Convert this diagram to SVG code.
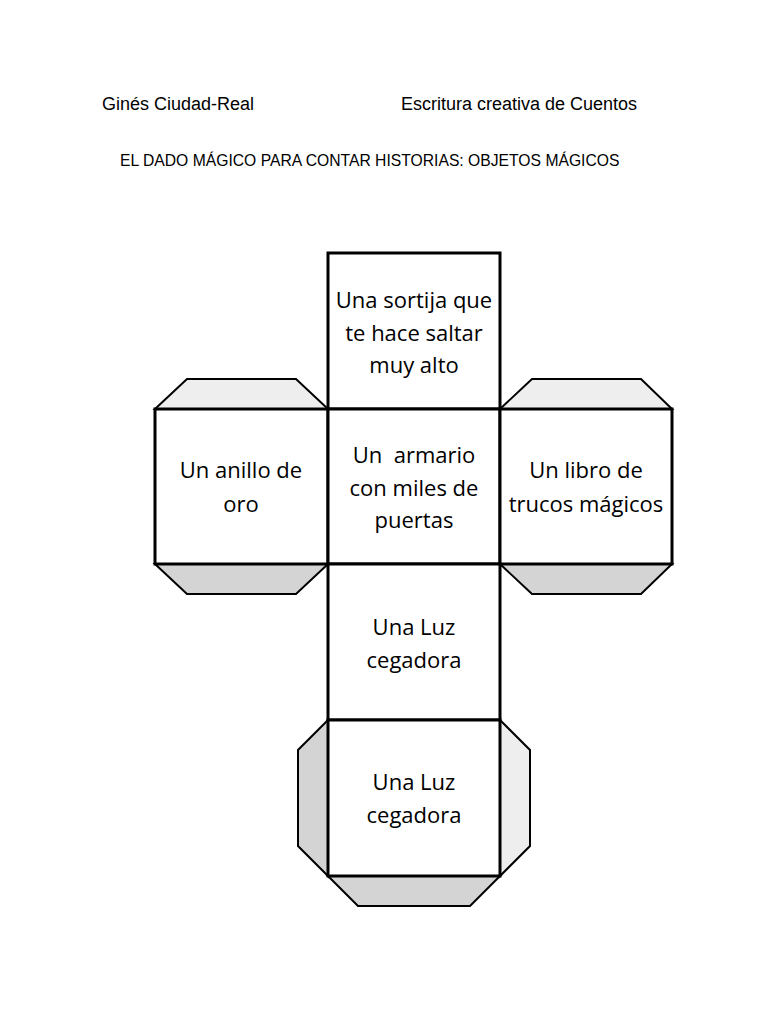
<svg xmlns="http://www.w3.org/2000/svg" width="768" height="1024" viewBox="0 0 768 1024">
<style>
.h{font-family:"Liberation Sans",Arial,sans-serif;font-size:18px;fill:#000}
.t{font-family:"Open Sans","Noto Sans",sans-serif;font-size:22px;fill:#000;text-anchor:middle}
.sq{fill:#fff;stroke:#000;stroke-width:3}
.tab{fill:#d4d4d4;stroke:#000;stroke-width:2}
.tabl{fill:#eeeeee;stroke:#000;stroke-width:2}
</style>
<rect width="768" height="1024" fill="#fff"/>
<text class="h" x="102" y="110">Ginés Ciudad-Real</text>
<text class="h" x="401" y="110">Escritura creativa de Cuentos</text>
<text class="h" x="120" y="166" style="font-size:15.7px">EL DADO MÁGICO PARA CONTAR HISTORIAS: OBJETOS MÁGICOS</text>
<g id="tabs">
<polygon class="tabl" points="155,409 187,379 296,379 328,409"/>
<polygon class="tab" points="155,564 187,594 296,594 328,564"/>
<polygon class="tabl" points="500,409 532,379 641,379 672,409"/>
<polygon class="tab" points="500,564 532,594 641,594 672,564"/>
<polygon class="tab" points="328,720 298,750 298,846 328,876"/>
<polygon class="tabl" points="500,720 530,750 530,846 500,876"/>
<polygon class="tab" points="328,876 358,906 470,906 500,876"/>
</g>
<g id="top"><rect class="sq" x="328" y="253" width="172" height="156"/>
<text class="t" x="414" y="308">Una sortija que</text><text class="t" x="414" y="341">te hace saltar</text><text class="t" x="414" y="373">muy alto</text></g>
<g id="left"><rect class="sq" x="155" y="409" width="173" height="155"/>
<text class="t" x="241" y="478">Un anillo de</text><text class="t" x="241" y="512">oro</text></g>
<g id="center"><rect class="sq" x="328" y="409" width="172" height="155"/>
<text class="t" x="414" y="463" xml:space="preserve">Un  armario</text><text class="t" x="414" y="496">con miles de</text><text class="t" x="414" y="528">puertas</text></g>
<g id="right"><rect class="sq" x="500" y="409" width="172" height="155"/>
<text class="t" x="586" y="478">Un libro de</text><text class="t" x="586" y="512">trucos mágicos</text></g>
<g id="lower"><rect class="sq" x="328" y="564" width="172" height="156"/>
<text class="t" x="414" y="635">Una Luz</text><text class="t" x="414" y="668">cegadora</text></g>
<g id="bottom"><rect class="sq" x="328" y="720" width="172" height="156"/>
<text class="t" x="414" y="790">Una Luz</text><text class="t" x="414" y="823">cegadora</text></g>
</svg>
